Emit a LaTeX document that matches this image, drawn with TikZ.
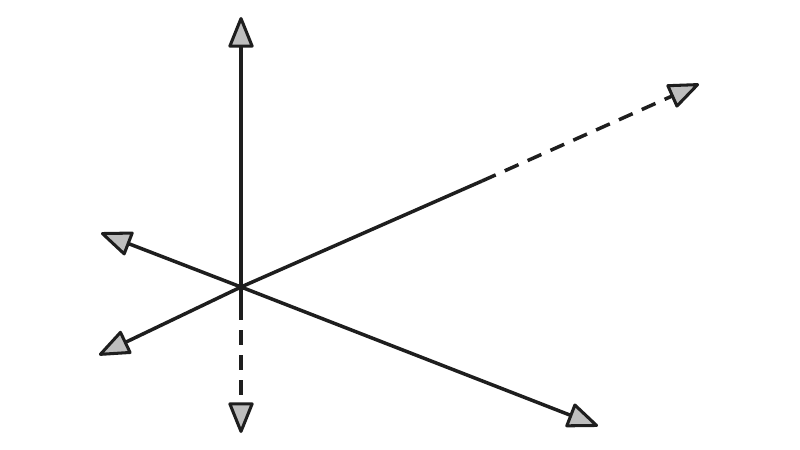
\documentclass[tikz,border=0pt]{standalone}
\usepackage{xcolor}
\usepackage{tikz}
\usetikzlibrary{arrows.meta,positioning}
\definecolor{axisInk}{RGB}{30, 30, 30}
\definecolor{tipGray}{RGB}{190, 190, 190}

\begin{document}
\begin{tikzpicture}[
        x=0.03cm, y=-0.03cm,
        axis/.style={draw=axisInk, line width=3pt, line cap=butt},
        tip/.style={-{Triangle[length=1.0cm, width=0.78cm, fill=tipGray, line width=2.6pt, round]}},
        dashpart/.style={dash pattern=on 0.45cm off 0.3cm}
    ]
    \useasboundingbox (0,0) rectangle (800,450);

    % Origine
    \coordinate (o) at (241,287);

    % Extremites
    \coordinate (up) at (241,17);
    \coordinate (down) at (241,433);
    \coordinate (downgap) at (241,305);
    \coordinate (upleft) at (101,233);
    \coordinate (downleft) at (99,355);
    \coordinate (downright) at (598,426);
    \coordinate (upright) at (699,84);
    \coordinate (uprightgap) at (482,181);

    % Axes
    \draw[axis, tip] (o) -- (up);
    \draw[axis] (o) -- (downgap);
    \draw[axis, tip, dashpart] (downgap) -- (down);
    \draw[axis, tip] (o) -- (upleft);
    \draw[axis, tip] (o) -- (downleft);
    \draw[axis, tip] (o) -- (downright);
    \draw[axis] (o) -- (uprightgap);
    \draw[axis, tip, dashpart] (uprightgap) -- (upright);

\end{tikzpicture}
\end{document}
